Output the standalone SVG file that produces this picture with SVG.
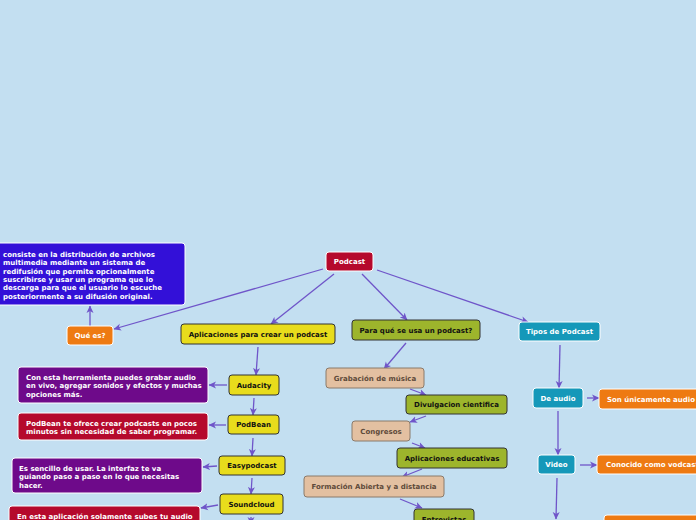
<svg xmlns="http://www.w3.org/2000/svg" width="696" height="520" viewBox="0 0 696 520">
<defs>
<marker id="ah" markerUnits="userSpaceOnUse" markerWidth="8" markerHeight="8" refX="7" refY="4" orient="auto">
<path d="M0,0.5 L7.5,4 L0,7.5 L2,4 z" fill="#6f55c9"/>
</marker>
<style>
text{font-family:"DejaVu Sans","Verdana",sans-serif;font-weight:bold;font-size:7px}
.c{text-anchor:middle}
.w{fill:#ffffff}
.k{fill:#111111}
.b{fill:#5e4a3a}
.crim{fill:#b5092c;stroke:#ffffff;stroke-width:1}
.blue{fill:#3310d8;stroke:#ffffff;stroke-width:1}
.purp{fill:#6e0a8a;stroke:#ffffff;stroke-width:1}
.yel{fill:#e8dc1c;stroke:#333333;stroke-width:1}
.olv{fill:#9db52c;stroke:#333333;stroke-width:1}
.teal{fill:#1598b9;stroke:#ffffff;stroke-width:1}
.org{fill:#ee7a12;stroke:#ffffff;stroke-width:1}
.tan{fill:#e3c0a1;stroke:#8a7a6a;stroke-width:1}
.ln{stroke:#6f55c9;stroke-width:1.3;fill:none;marker-end:url(#ah)}
</style>
</defs>
<rect x="0" y="0" width="696" height="520" fill="#c3dff1"/>

<g id="connectors">
<line class="ln" x1="323" y1="269" x2="114" y2="329"/>
<line class="ln" x1="90" y1="326" x2="90" y2="306"/>
<line class="ln" x1="334" y1="274" x2="271" y2="324"/>
<line class="ln" x1="362" y1="274" x2="407" y2="320"/>
<line class="ln" x1="377" y1="270" x2="528" y2="322"/>
<line class="ln" x1="258" y1="347" x2="256" y2="375"/>
<line class="ln" x1="227" y1="385" x2="209" y2="385"/>
<line class="ln" x1="254" y1="398" x2="253" y2="415"/>
<line class="ln" x1="226" y1="425" x2="209" y2="425"/>
<line class="ln" x1="253" y1="438" x2="252" y2="456"/>
<line class="ln" x1="217" y1="466" x2="203" y2="467"/>
<line class="ln" x1="252" y1="478" x2="251" y2="494"/>
<line class="ln" x1="218" y1="505" x2="201" y2="508"/>
<line class="ln" x1="251" y1="517" x2="251" y2="524"/>
<line class="ln" x1="406" y1="343" x2="384" y2="369"/>
<line class="ln" x1="410" y1="389" x2="426" y2="395"/>
<line class="ln" x1="426" y1="416" x2="410" y2="422"/>
<line class="ln" x1="412" y1="443" x2="425" y2="448"/>
<line class="ln" x1="422" y1="469" x2="402" y2="477"/>
<line class="ln" x1="400" y1="499" x2="422" y2="508"/>
<line class="ln" x1="560" y1="345" x2="559" y2="388"/>
<line class="ln" x1="587" y1="398" x2="599" y2="398"/>
<line class="ln" x1="558" y1="411" x2="558" y2="455"/>
<line class="ln" x1="580" y1="465" x2="597" y2="465"/>
<line class="ln" x1="557" y1="478" x2="556" y2="519"/>
</g>

<g id="n-podcast"><rect class="crim" x="326" y="252" width="47" height="19" rx="3"/><text class="c w" x="349.5" y="264">Podcast</text></g>
<g id="n-quees"><rect class="org" x="67" y="326" width="46" height="19" rx="3"/><text class="c w" x="90" y="338">Qué es?</text></g>
<g id="n-def"><rect class="blue" x="-10" y="243" width="195" height="62" rx="3"/>
<text class="w" x="3" y="256.5">consiste en la distribución de archivos</text>
<text class="w" x="3" y="265">multimedia mediante un sistema de</text>
<text class="w" x="3" y="273.5">redifusión que permite opcionalmente</text>
<text class="w" x="3" y="281.5">suscribirse y usar un programa que lo</text>
<text class="w" x="3" y="290">descarga para que el usuario lo escuche</text>
<text class="w" x="3" y="298.5">posteriormente a su difusión original.</text>
</g>
<g id="n-apps"><rect class="yel" x="181" y="324" width="154" height="20" rx="3"/><text class="c k" x="258" y="336.5">Aplicaciones para crear un podcast</text></g>
<g id="n-paraque"><rect class="olv" x="352" y="320" width="128" height="20" rx="3"/><text class="c k" x="416" y="332.5">Para qué se usa un podcast?</text></g>
<g id="n-tipos"><rect class="teal" x="519" y="322" width="81" height="19" rx="3"/><text class="c w" x="559.5" y="334">Tipos de Podcast</text></g>

<g id="n-audacity"><rect class="yel" x="229" y="375" width="50" height="20" rx="3"/><text class="c k" x="254" y="387.5">Audacity</text></g>
<g id="n-audacity-d"><rect class="purp" x="18" y="367" width="190" height="36" rx="3"/>
<text class="w" x="26" y="379.5">Con esta herramienta puedes grabar audio</text>
<text class="w" x="26" y="388">en vivo, agregar sonidos y efectos y muchas</text>
<text class="w" x="26" y="396.5">opciones más.</text></g>
<g id="n-podbean"><rect class="yel" x="228" y="415" width="51" height="19" rx="3"/><text class="c k" x="253.5" y="427">PodBean</text></g>
<g id="n-podbean-d"><rect class="crim" x="18" y="413" width="190" height="27" rx="3"/>
<text class="w" x="26" y="425.5">PodBean te ofrece crear podcasts en pocos</text>
<text class="w" x="26" y="434">minutos sin necesidad de saber programar.</text></g>
<g id="n-easy"><rect class="yel" x="219" y="456" width="66" height="19" rx="3"/><text class="c k" x="252" y="468">Easypodcast</text></g>
<g id="n-easy-d"><rect class="purp" x="12" y="458" width="190" height="35" rx="3"/>
<text class="w" x="19" y="470.5">Es sencillo de usar. La interfaz te va</text>
<text class="w" x="19" y="479">guiando paso a paso en lo que necesitas</text>
<text class="w" x="19" y="487.5">hacer.</text></g>
<g id="n-sound"><rect class="yel" x="220" y="494" width="63" height="20" rx="3"/><text class="c k" x="251.5" y="506.5">Soundcloud</text></g>
<g id="n-sound-d"><rect class="crim" x="9" y="506" width="191" height="30" rx="3"/>
<text class="w" x="17" y="518.5">En esta aplicación solamente subes tu audio</text></g>

<g id="n-grab"><rect class="tan" x="326" y="368" width="98" height="20" rx="3"/><text class="c b" x="375" y="380.5">Grabación de música</text></g>
<g id="n-divul"><rect class="olv" x="406" y="395" width="101" height="19" rx="3"/><text class="c k" x="456.5" y="407">Divulgacion cientifica</text></g>
<g id="n-cong"><rect class="tan" x="352" y="421" width="58" height="20" rx="3"/><text class="c b" x="381" y="433.5">Congresos</text></g>
<g id="n-educ"><rect class="olv" x="397" y="448" width="110" height="20" rx="3"/><text class="c k" x="452" y="460.5">Aplicaciones educativas</text></g>
<g id="n-form"><rect class="tan" x="304" y="476" width="140" height="21" rx="3"/><text class="c b" x="374" y="489">Formación Abierta y a distancia</text></g>
<g id="n-entre"><rect class="olv" x="414" y="509" width="60" height="20" rx="3"/><text class="c k" x="444" y="521.5">Entrevistas</text></g>

<g id="n-deaudio"><rect class="teal" x="533" y="388" width="50" height="20" rx="3"/><text class="c w" x="558" y="400.5">De audio</text></g>
<g id="n-soloaudio"><rect class="org" x="599" y="389" width="110" height="20" rx="3"/><text class="w" x="607" y="401.5">Son únicamente audio</text></g>
<g id="n-video"><rect class="teal" x="538" y="455" width="37" height="19" rx="3"/><text class="c w" x="556.5" y="467">Video</text></g>
<g id="n-vodcast"><rect class="org" x="597" y="455" width="110" height="19" rx="3"/><text class="w" x="606" y="467">Conocido como vodcast</text></g>
<g id="n-bottom"><rect class="org" x="604" y="515" width="110" height="20" rx="3"/></g>
</svg>
